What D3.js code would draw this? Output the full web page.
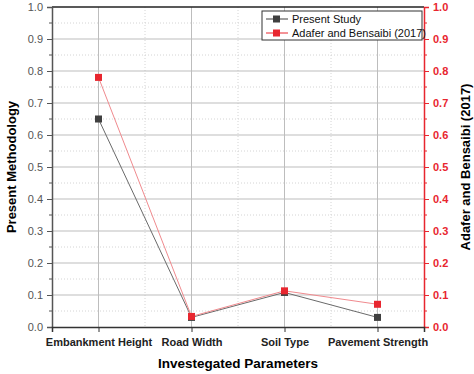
<!DOCTYPE html>
<html>
<head>
<meta charset="utf-8">
<script src="https://cdn.jsdelivr.net/npm/d3@7"></script>
<style>
body { margin: 0; background: #fff; }
svg { font-family: Arial, "Liberation Sans", sans-serif; }
</style>
</head>
<body>
<svg id="chart" width="474" height="374"></svg>
<script>
// data
var categories = ["Embankment Height", "Road Width", "Soil Type", "Pavement Strength"];
var presentStudy = [0.65, 0.03, 0.108, 0.03];
var adaferBensaibi = [0.78, 0.033, 0.113, 0.071];
var yTicks = [0, 0.1, 0.2, 0.3, 0.4, 0.5, 0.6, 0.7, 0.8, 0.9, 1.0];
var seriesNames = ["Present Study", "Adafer and Bensaibi (2017)"];

var svg = d3.select("#chart"),
    margin = {top: 7, right: 50, bottom: 47, left: 52},
    width = +svg.attr("width") - margin.left - margin.right,
    height = +svg.attr("height") - margin.top - margin.bottom,
    g = svg.append("g").attr("transform", "translate(" + margin.left + "," + margin.top + ")");

var gray = "#3f3f3f", red = "#e8262f";

var x = d3.scalePoint().domain(categories).range([0, width]).padding(0.5);
var yL = d3.scaleLinear().domain([0, 1]).range([height, 0]);
var yR = d3.scaleLinear().domain([0, 1]).range([height, 0]);

// minor grid (dotted)
var minor = d3.range(0.05, 1, 0.1);
g.append("g").selectAll("line").data(minor).enter().append("line")
  .attr("x1", 0).attr("x2", width)
  .attr("y1", function(d) { return yL(d); }).attr("y2", function(d) { return yL(d); })
  .attr("stroke", "#d4d4d4").attr("stroke-dasharray", "1,2");
var step = x.step();
g.append("g").selectAll("line").data(categories.slice(0, 3)).enter().append("line")
  .attr("x1", function(d) { return x(d) + step / 2; }).attr("x2", function(d) { return x(d) + step / 2; })
  .attr("y1", 0).attr("y2", height)
  .attr("stroke", "#d4d4d4").attr("stroke-dasharray", "1,2");

// major grid
g.append("g").selectAll("line").data(yTicks.slice(1, -1)).enter().append("line")
  .attr("x1", 0).attr("x2", width)
  .attr("y1", function(d) { return yL(d); }).attr("y2", function(d) { return yL(d); })
  .attr("stroke", "#bdbdbd");
g.append("g").selectAll("line").data(categories).enter().append("line")
  .attr("x1", function(d) { return x(d); }).attr("x2", function(d) { return x(d); })
  .attr("y1", 0).attr("y2", height)
  .attr("stroke", "#bdbdbd");

// top frame
g.append("line").attr("x1", 0).attr("x2", width).attr("y1", 0).attr("y2", 0)
  .attr("stroke", "#222").attr("stroke-width", 1.5);

// left axis
var leftAxis = g.append("g")
  .call(d3.axisLeft(yL).tickValues(yTicks).tickFormat(d3.format(".1f")).tickSize(5).tickPadding(4));
leftAxis.select(".domain").attr("stroke", "#555").attr("stroke-width", 1.5);
leftAxis.selectAll(".tick line").attr("stroke", "#555");
leftAxis.selectAll("text").attr("fill", "#555").attr("font-size", 11);
g.append("g").selectAll("line").data(minor).enter().append("line")
  .attr("x1", -3).attr("x2", 0)
  .attr("y1", function(d) { return yL(d); }).attr("y2", function(d) { return yL(d); })
  .attr("stroke", "#555");

// right axis
var rightAxis = g.append("g").attr("transform", "translate(" + width + ",0)")
  .call(d3.axisRight(yR).tickValues(yTicks).tickFormat(d3.format(".1f")).tickSize(5).tickPadding(4));
rightAxis.select(".domain").attr("stroke", red).attr("stroke-width", 1.5);
rightAxis.selectAll(".tick line").attr("stroke", red);
rightAxis.selectAll("text").attr("fill", red).attr("font-size", 11).attr("font-weight", "bold");
g.append("g").selectAll("line").data(minor).enter().append("line")
  .attr("x1", width).attr("x2", width + 3)
  .attr("y1", function(d) { return yR(d); }).attr("y2", function(d) { return yR(d); })
  .attr("stroke", red);

// bottom axis
var bottomAxis = g.append("g").attr("transform", "translate(0," + height + ")")
  .call(d3.axisBottom(x).tickSize(5).tickPadding(6));
bottomAxis.select(".domain").attr("stroke", "#333").attr("stroke-width", 1.5);
bottomAxis.selectAll(".tick line").attr("stroke", "#333");
bottomAxis.selectAll("text").attr("fill", "#222").attr("font-size", 11).attr("font-weight", "bold");

// lines + markers
function drawSeries(values, color, lineColor, scale) {
  var pts = categories.map(function(c, i) { return [x(c), scale(values[i])]; });
  g.append("path").datum(pts)
    .attr("d", d3.line())
    .attr("fill", "none").attr("stroke", lineColor).attr("stroke-width", 1);
  g.append("g").selectAll("rect").data(pts).enter().append("rect")
    .attr("x", function(d) { return d[0] - 3.5; }).attr("y", function(d) { return d[1] - 3.5; })
    .attr("width", 7).attr("height", 7).attr("fill", color);
}
drawSeries(presentStudy, gray, "#6a6a6a", yL);
drawSeries(adaferBensaibi, red, "#f08a8e", yR);

// legend
var lg = g.append("g").attr("transform", "translate(210,4)");
lg.append("rect").attr("x", 0).attr("y", 0).attr("width", 160).attr("height", 29)
  .attr("fill", "#fff").attr("stroke", "#333");
seriesNames.forEach(function(name, i) {
  var c = i === 0 ? gray : red;
  var yy = 8 + i * 14;
  lg.append("line").attr("x1", 4).attr("x2", 26).attr("y1", yy).attr("y2", yy).attr("stroke", c);
  lg.append("rect").attr("x", 11).attr("y", yy - 3.5).attr("width", 7).attr("height", 7).attr("fill", c);
  lg.append("text").attr("x", 30).attr("y", yy).attr("dy", "0.35em")
    .attr("font-size", 11).attr("fill", "#111").text(name);
});

// axis titles
svg.append("text")
  .attr("transform", "translate(16," + (margin.top + height / 2) + ") rotate(-90)")
  .attr("text-anchor", "middle").attr("font-size", 13).attr("font-weight", "bold")
  .text("Present Methodology");
svg.append("text")
  .attr("transform", "translate(470," + (margin.top + height / 2) + ") rotate(-90)")
  .attr("text-anchor", "middle").attr("font-size", 13).attr("font-weight", "bold")
  .text("Adafer and Bensaibi (2017)");
svg.append("text")
  .attr("x", margin.left + width / 2).attr("y", 368)
  .attr("text-anchor", "middle").attr("font-size", 13.5).attr("font-weight", "bold")
  .text("Investegated Parameters");
</script>
</body>
</html>
